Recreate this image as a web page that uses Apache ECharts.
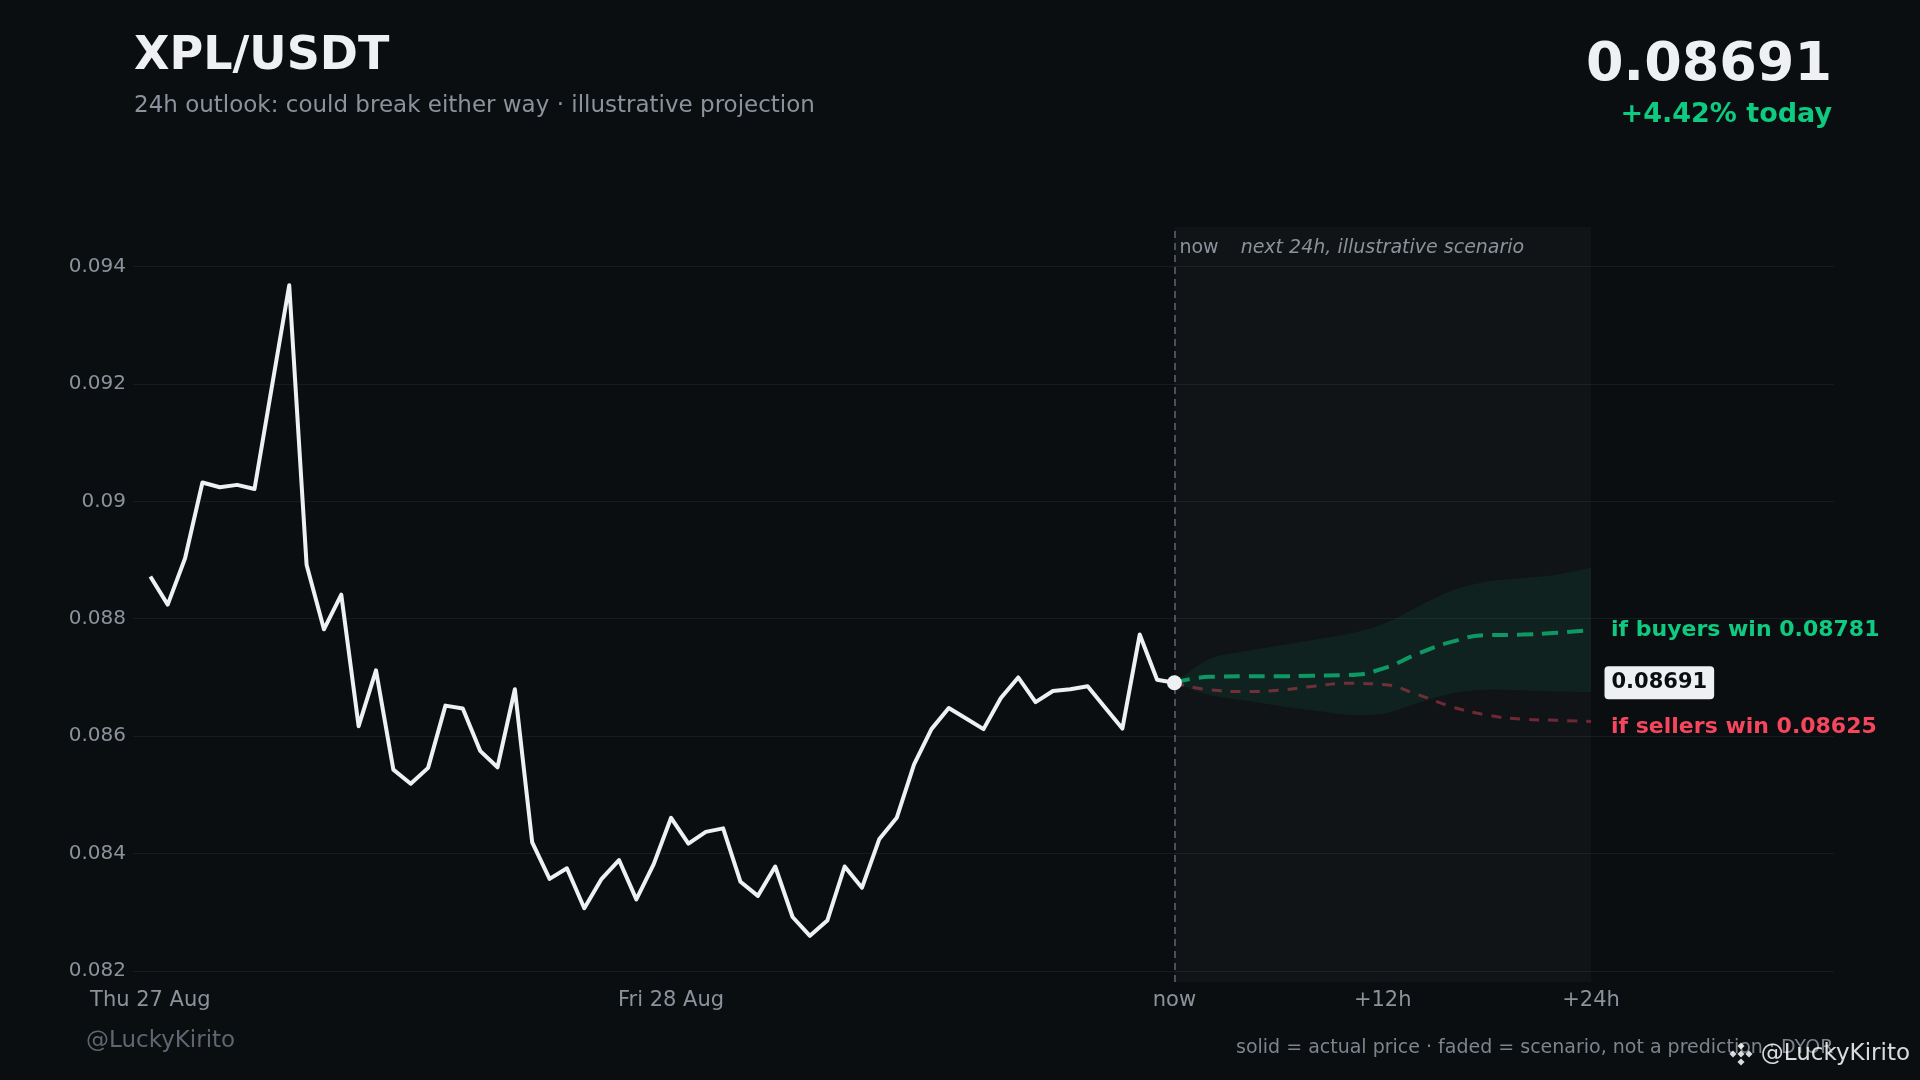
<!DOCTYPE html>
<html lang="en">
<head>
<meta charset="UTF-8">
<title>XPL/USDT 24h outlook</title>
<style>
    html, body { margin: 0; padding: 0; background: #0b0e11; }
    #chart { width: 1920px; height: 1080px; }
</style>
<script src="https://cdn.jsdelivr.net/npm/echarts@6.0.0/dist/echarts.min.js"></script>
</head>
<body>
<div id="chart"></div>
<script>
// hourly closes, index 0 = first candle on the chart, last one = now
var prices = [
    0.08872, 0.08824, 0.08903, 0.09032, 0.09024, 0.09028, 0.09021, 0.09195, 0.09368, 0.08892,
    0.08782, 0.08841, 0.08617, 0.08712, 0.08543, 0.08519, 0.08546, 0.08652, 0.08647, 0.08575,
    0.08547, 0.08680, 0.08419, 0.08357, 0.08375, 0.08307, 0.08357, 0.08389, 0.08322, 0.08382,
    0.08461, 0.08417, 0.08437, 0.08443, 0.08352, 0.08328, 0.08378, 0.08292, 0.08260, 0.08286,
    0.08378, 0.08342, 0.08425, 0.08461, 0.08552, 0.08612, 0.08648, 0.08630, 0.08612, 0.08665,
    0.08700, 0.08658, 0.08677, 0.08680, 0.08685, 0.08649, 0.08613, 0.08773, 0.08696, 0.08691
];
var nowIdx = 59;
var lastPrice = 0.08691;
var changeToday = '+4.42%';

var xLabelAt = [0, 30, 59, 71, 83];
var xLabelText = ['Thu 27 Aug', 'Fri 28 Aug', 'now', '+12h', '+24h'];
var yTicks = [0.082, 0.084, 0.086, 0.088, 0.09, 0.092, 0.094];

// scenario, hours after now
var projHours   = [0, 2, 4, 6, 8, 10, 12, 14, 16, 18, 20, 22, 24];
var buyersPath  = [0.08691, 0.08701, 0.08702, 0.08702, 0.08703, 0.08704, 0.08715, 0.08740, 0.08761, 0.08772, 0.08773, 0.08776, 0.08781];
var sellersPath = [0.08691, 0.08679, 0.08676, 0.08678, 0.08685, 0.08690, 0.08688, 0.08671, 0.08650, 0.08636, 0.08629, 0.08627, 0.08625];
var bandHigh    = [0.08691, 0.08731, 0.08744, 0.08754, 0.08764, 0.08774, 0.08790, 0.08820, 0.08848, 0.08863, 0.08869, 0.08875, 0.08887];
var bandLow     = [0.08691, 0.08670, 0.08661, 0.08652, 0.08644, 0.08637, 0.08638, 0.08656, 0.08673, 0.08679, 0.08678, 0.08676, 0.08675];

var FONT = '"DejaVu Sans"';
var GREEN = '#0ecb81';
var RED = '#f6465d';
var MUTED = '#8b929b';

function proj(arr) {
    return arr.map(function (v, i) { return [nowIdx + projHours[i], v]; });
}

// catmull-rom through pixel points -> svg path commands (first point not included)
function curveThrough(pts) {
    var d = '';
    for (var i = 0; i < pts.length - 1; i++) {
        var p0 = pts[Math.max(i - 1, 0)], p1 = pts[i], p2 = pts[i + 1], p3 = pts[Math.min(i + 2, pts.length - 1)];
        var c1 = [p1[0] + (p2[0] - p0[0]) / 6, p1[1] + (p2[1] - p0[1]) / 6];
        var c2 = [p2[0] - (p3[0] - p1[0]) / 6, p2[1] - (p3[1] - p1[1]) / 6];
        d += ' C' + c1[0] + ',' + c1[1] + ' ' + c2[0] + ',' + c2[1] + ' ' + p2[0] + ',' + p2[1];
    }
    return d;
}

function renderBand(params, api) {
    if (params.dataIndex !== 0) return;
    var up = projHours.map(function (h, i) { return api.coord([nowIdx + h, bandHigh[i]]); });
    var lo = projHours.map(function (h, i) { return api.coord([nowIdx + h, bandLow[i]]); }).reverse();
    var d = 'M' + up[0][0] + ',' + up[0][1] + curveThrough(up) +
        ' L' + lo[0][0] + ',' + lo[0][1] + curveThrough(lo) + ' Z';
    return {
        type: 'path',
        shape: { pathData: d },
        style: { fill: 'rgba(14,203,129,0.08)', stroke: 'none' }
    };
}

var chart = echarts.init(document.getElementById('chart'));

var option = {
    backgroundColor: '#0b0e11',
    animation: false,
    textStyle: { fontFamily: FONT },
    grid: { left: 133, right: 86, top: 227, bottom: 98 },
    xAxis: {
        type: 'value',
        min: -1,
        max: 97,
        axisLine: { show: false },
        axisTick: { show: false, customValues: xLabelAt },
        splitLine: { show: false },
        axisLabel: {
            customValues: xLabelAt,
            formatter: function (v) { return xLabelText[xLabelAt.indexOf(v)]; },
            color: MUTED,
            fontSize: 21,
            margin: 8
        }
    },
    yAxis: {
        type: 'value',
        min: 0.081813,
        max: 0.094672,
        axisLine: { show: false },
        axisTick: { show: false, customValues: yTicks },
        axisLabel: { customValues: yTicks, color: MUTED, fontSize: 20, margin: 7 },
        splitLine: { lineStyle: { color: 'rgba(255,255,255,0.055)', width: 1 } }
    },
    graphic: [
        { type: 'text', x: 134, y: 57, style: { text: 'XPL/USDT', fill: '#eef0f3', font: 'bold 46px ' + FONT, align: 'left', verticalAlign: 'middle' } },
        { type: 'text', x: 134, y: 106, style: { text: '24h outlook: could break either way \u00b7 illustrative projection', fill: MUTED, font: '23px ' + FONT, align: 'left', verticalAlign: 'middle' } },
        { type: 'text', x: 1832, y: 65.5, style: { text: String(lastPrice), fill: '#eef0f3', font: 'bold 54px ' + FONT, align: 'right', verticalAlign: 'middle' } },
        { type: 'text', x: 1832, y: 114.5, style: { text: changeToday + ' today', fill: GREEN, font: 'bold 27px ' + FONT, align: 'right', verticalAlign: 'middle' } },
        { type: 'text', x: 86, y: 1041, style: { text: '@LuckyKirito', fill: '#5f6670', font: '23px ' + FONT, align: 'left', verticalAlign: 'middle' } },
        { type: 'text', x: 1236, y: 1048, style: { text: 'solid = actual price \u00b7 faded = scenario, not a prediction \u00b7 DYOR', fill: '#7d848e', font: '19px ' + FONT, align: 'left', verticalAlign: 'middle' } },
        {
            type: 'group', x: 1741, y: 1054,
            children: [
                { type: 'rect', rotation: Math.PI / 4, shape: { x: -2.5, y: -2.5, width: 5, height: 5 }, style: { fill: 'rgba(255,255,255,0.85)' } },
                { type: 'rect', y: -8, rotation: Math.PI / 4, shape: { x: -2.5, y: -2.5, width: 5, height: 5 }, style: { fill: 'rgba(255,255,255,0.85)' } },
                { type: 'rect', y: 8, rotation: Math.PI / 4, shape: { x: -2.5, y: -2.5, width: 5, height: 5 }, style: { fill: 'rgba(255,255,255,0.85)' } },
                { type: 'rect', x: -8, rotation: Math.PI / 4, shape: { x: -2.5, y: -2.5, width: 5, height: 5 }, style: { fill: 'rgba(255,255,255,0.85)' } },
                { type: 'rect', x: 8, rotation: Math.PI / 4, shape: { x: -2.5, y: -2.5, width: 5, height: 5 }, style: { fill: 'rgba(255,255,255,0.85)' } }
            ]
        },
        { type: 'text', x: 1910, y: 1054, style: { text: '@LuckyKirito', fill: 'rgba(255,255,255,0.85)', font: '23px ' + FONT, align: 'right', verticalAlign: 'middle' } }
    ],
    series: [
        {
            name: 'band',
            type: 'custom',
            silent: true,
            data: projHours.map(function (h, i) { return [nowIdx + h, bandLow[i], bandHigh[i]]; }),
            encode: { x: 0, y: [1, 2] },
            renderItem: renderBand
        },
        {
            name: 'sellers',
            type: 'line',
            data: proj(sellersPath),
            smooth: true,
            symbol: 'none',
            lineStyle: { color: 'rgba(246,70,93,0.42)', width: 3, type: [10, 9] },
            endLabel: {
                show: true,
                formatter: function () { return 'if sellers win ' + sellersPath[sellersPath.length - 1]; },
                color: RED,
                fontSize: 22,
                fontWeight: 'bold',
                distance: 20,
                offset: [0, 6]
            }
        },
        {
            name: 'buyers',
            type: 'line',
            data: proj(buyersPath),
            smooth: true,
            symbol: 'none',
            lineStyle: { color: 'rgba(14,203,129,0.7)', width: 4, type: [16, 9] },
            endLabel: {
                show: true,
                formatter: function () { return 'if buyers win ' + buyersPath[buyersPath.length - 1]; },
                color: GREEN,
                fontSize: 22,
                fontWeight: 'bold',
                distance: 20
            }
        },
        {
            name: 'price',
            type: 'line',
            data: prices.map(function (v, i) { return [i, v]; }),
            symbol: 'none',
            z: 5,
            lineStyle: { color: '#eef0f3', width: 4, join: 'round' },
            markArea: {
                silent: true,
                itemStyle: { color: 'rgba(255,255,255,0.028)' },
                label: {
                    show: true,
                    position: [5, 12],
                    formatter: '{a|now}{b|next 24h, illustrative scenario}',
                    rich: {
                        a: { color: MUTED, fontSize: 19, padding: [0, 22, 0, 0] },
                        b: { color: MUTED, fontSize: 19, fontStyle: 'italic' }
                    }
                },
                data: [[{ xAxis: nowIdx }, { xAxis: nowIdx + 24 }]]
            },
            markLine: {
                silent: true,
                symbol: ['none', 'none'],
                label: { show: false },
                lineStyle: { color: '#5f6670', type: [7, 5], width: 1.5 },
                data: [{ xAxis: nowIdx }]
            }
        },
        {
            name: 'now',
            type: 'scatter',
            data: [[nowIdx, lastPrice]],
            symbolSize: 15,
            z: 6,
            itemStyle: { color: '#eef0f3', opacity: 1 }
        },
        {
            name: 'tag',
            type: 'scatter',
            data: [[nowIdx + 24, lastPrice]],
            symbolSize: 1,
            silent: true,
            itemStyle: { color: 'rgba(0,0,0,0)', opacity: 1 },
            label: {
                show: true,
                position: 'right',
                distance: 13,
                formatter: function () { return String(lastPrice); },
                backgroundColor: '#eef0f3',
                color: '#0b0e11',
                fontSize: 21,
                fontWeight: 'bold',
                padding: [7, 7, 5, 7],
                borderRadius: 4
            }
        }
    ]
};
chart.setOption(option);
</script>
</body>
</html>
